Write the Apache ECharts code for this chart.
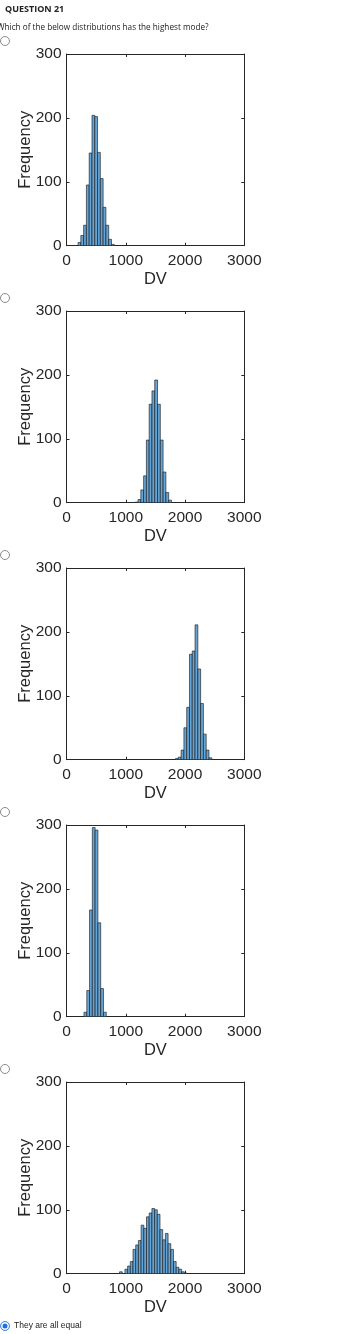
<!DOCTYPE html>
<html>
<head>
<meta charset="utf-8">
<script src="https://cdn.jsdelivr.net/npm/echarts@6/dist/echarts.min.js"></script>
<style>
  html, body { margin:0; padding:0; background:#fff; width:352px; height:1334px; overflow:hidden; }
  #chart { position:absolute; left:0; top:0; width:352px; height:1334px; }
  .txt { position:absolute; white-space:nowrap; color:#222; }
  .q { font-family:"Open Sans", sans-serif; }
  .radio { position:absolute; width:8px; height:8px; border:1px solid #8a8a8a; border-radius:50%; background:#fff; box-sizing:content-box; }
  .radio.sel { border:1px solid #4d8fe6; background:#1f6fe0; box-shadow: inset 0 0 0 1.5px #fff; }
</style>
</head>
<body>
<div id="chart"></div>
<div class="txt q" style="left:5px; top:2px; font-size:9px; font-weight:700;">QUESTION 21</div>
<div class="txt q" style="left:-3px; top:21px; font-size:8.2px;">Which of the below distributions has the highest mode?</div>
<div class="radio" style="left:0px; top:35.5px;"></div>
<div class="radio" style="left:0px; top:292.5px;"></div>
<div class="radio" style="left:0px; top:549.5px;"></div>
<div class="radio" style="left:0px; top:806.5px;"></div>
<div class="radio" style="left:0px; top:1063.5px;"></div>
<div class="radio sel" style="left:0px; top:1321px;"></div>
<div class="txt" style="left:14px; top:1320px; font-size:8.5px; font-family:'Liberation Sans', Arial, sans-serif;">They are all equal</div>
<script>
// ---- data ----
const xTicks = [0, 1000, 2000, 3000];
const yTicks = [0, 100, 200, 300];
const xName = 'DV';
const yName = 'Frequency';

// histogram 1
const binStart1 = 195;
const binWidth1 = 47;
const counts1 = [5, 16, 32, 95, 145, 204, 202, 146, 105, 60, 32, 10, 2];

// histogram 2
const binStart2 = 1160;
const binWidth2 = 47;
const counts2 = [1, 5, 20, 42, 98, 154, 175, 192, 154, 98, 48, 16, 4];

// histogram 3
const binStart3 = 1840;
const binWidth3 = 47;
const counts3 = [2, 4, 15, 50, 82, 165, 170, 211, 142, 88, 40, 15, 3];

// histogram 4
const binStart4 = 295;
const binWidth4 = 47;
const counts4 = [7, 41, 167, 296, 292, 147, 44, 7];

// histogram 5
const binStart5 = 895;
const binWidth5 = 45.5;
const counts5 = [3, 0, 7, 12, 19, 38, 45, 52, 76, 71, 89, 95, 102, 100, 93, 69, 53, 63, 47, 38, 19, 10, 7, 3, 1];

// ---- chart ----
const hists = [
  [binStart1, binWidth1, counts1],
  [binStart2, binWidth2, counts2],
  [binStart3, binWidth3, counts3],
  [binStart4, binWidth4, counts4],
  [binStart5, binWidth5, counts5]
];

const FONT = "'Liberation Sans', Arial, Helvetica, sans-serif";
const AX = '#262626';
const BAR_FILL = 'rgb(102,165,213)';
const BAR_EDGE = '#111';

function renderItem(params, api) {
  const x0 = api.value(0), x1 = api.value(1), c = api.value(2);
  if (!c) return null;
  const pTop = api.coord([x0, c]);
  const pBot = api.coord([x1, 0]);
  return {
    type: 'rect',
    shape: { x: pTop[0], y: pTop[1], width: pBot[0] - pTop[0], height: pBot[1] - pTop[1] },
    style: { fill: BAR_FILL, stroke: BAR_EDGE, lineWidth: 0.6 }
  };
}

const grids = [], xAxes = [], yAxes = [], series = [];
const xMin = xTicks[0], xMax = xTicks[xTicks.length - 1], xInt = xTicks[1] - xTicks[0];
const yMin = yTicks[0], yMax = yTicks[yTicks.length - 1], yInt = yTicks[1] - yTicks[0];
const plain = v => String(v);

hists.forEach(([start, w, counts], k) => {
  grids.push({ left: 66.5, top: 54 + k * 257, width: 177.8, height: 191.7 });
  const lineStyle = { color: AX, width: 1 };
  const tick = { show: true, inside: true, length: 3, lineStyle: { color: AX, width: 1 } };
  xAxes.push({
    gridIndex: k, type: 'value', min: xMin, max: xMax, interval: xInt, position: 'bottom',
    name: xName, nameLocation: 'middle', nameGap: 25, nameMoveOverlap: false,
    nameTextStyle: { fontSize: 16.5, color: AX, fontFamily: FONT },
    axisLine: { show: true, onZero: false, lineStyle },
    axisTick: tick,
    axisLabel: { margin: 7, fontSize: 15.5, color: AX, fontFamily: FONT, formatter: plain, showMinLabel: true, showMaxLabel: true },
    splitLine: { show: false }
  });
  xAxes.push({
    gridIndex: k, type: 'value', min: xMin, max: xMax, interval: xInt, position: 'top',
    axisLine: { show: true, onZero: false, lineStyle },
    axisTick: tick, axisLabel: { show: false }, splitLine: { show: false }
  });
  yAxes.push({
    gridIndex: k, type: 'value', min: yMin, max: yMax, interval: yInt, position: 'left',
    name: yName, nameLocation: 'middle', nameGap: 33, nameMoveOverlap: false,
    nameTextStyle: { fontSize: 16.5, color: AX, fontFamily: FONT },
    axisLine: { show: true, onZero: false, lineStyle },
    axisTick: tick,
    axisLabel: { margin: 5, fontSize: 15.5, color: AX, fontFamily: FONT, formatter: plain, showMinLabel: true, showMaxLabel: true },
    splitLine: { show: false }
  });
  yAxes.push({
    gridIndex: k, type: 'value', min: yMin, max: yMax, interval: yInt, position: 'right',
    axisLine: { show: true, onZero: false, lineStyle },
    axisTick: tick, axisLabel: { show: false }, splitLine: { show: false }
  });
  series.push({
    type: 'custom',
    xAxisIndex: 2 * k, yAxisIndex: 2 * k,
    renderItem,
    encode: { x: [0, 1], y: 2 },
    data: counts.map((c, i) => [start + i * w, start + (i + 1) * w, c]),
    clip: true,
    silent: true
  });
});

const chart = echarts.init(document.getElementById('chart'), null, { renderer: 'canvas' });
chart.setOption({
  animation: false,
  backgroundColor: 'transparent',
  grid: grids,
  xAxis: xAxes,
  yAxis: yAxes,
  series
});
</script>
</body>
</html>
